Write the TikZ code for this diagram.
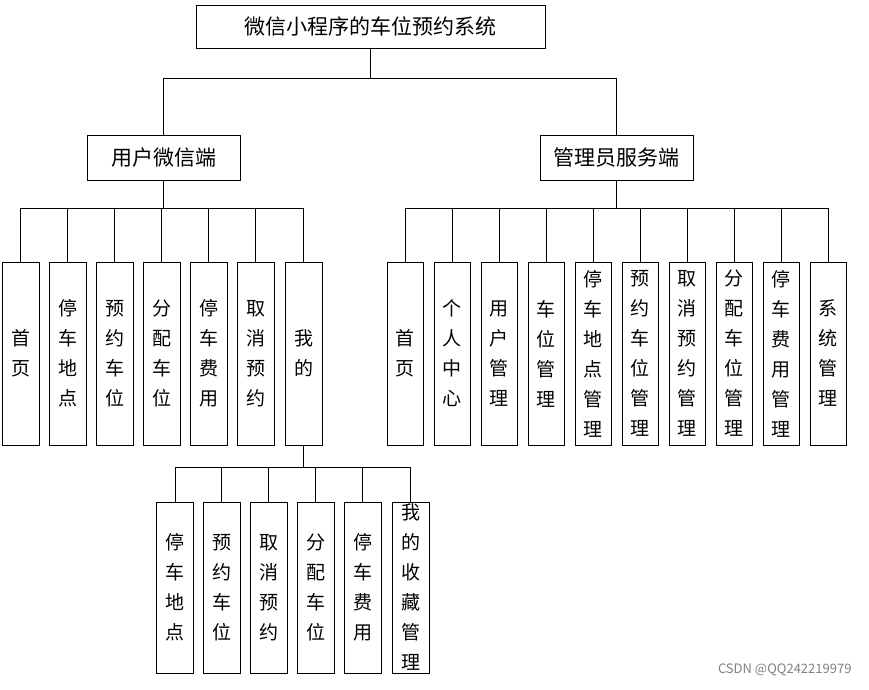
\documentclass[tikz,border=0pt]{standalone}
\usepackage{fontspec}
\setmainfont{Noto Sans CJK SC}
\begin{document}
\begin{tikzpicture}[x=1pt,y=-1pt,
 box/.style={draw,line width=0.8pt,inner sep=0pt,font=\fontsize{21}{26}\selectfont},
 vbox/.style={draw,line width=0.8pt,inner sep=0pt,minimum width=37pt,align=center,font=\fontsize{19}{30}\selectfont},
 ln/.style={line width=0.8pt}]
\useasboundingbox (0,0) rectangle (869,689);
\node[box,minimum width=349pt,minimum height=43pt] (root) at (370.5,26.5) {微信小程序的车位预约系统};
\node[box,minimum width=153pt,minimum height=45pt] (u) at (163.5,157.5) {用户微信端};
\node[box,minimum width=153pt,minimum height=45pt] (a) at (616.5,157.5) {管理员服务端};
\coordinate (rb) at (370.5,78);
\draw[ln] (root.south)--(rb); \draw[ln] (rb)-|(u.north); \draw[ln] (rb)-|(a.north);
% user children
\foreach \n/\x/\t in {u1/20.5/首\\页,u2/67.5/停\\车\\地\\点,u3/114.5/预\\约\\车\\位,u4/161.5/分\\配\\车\\位,u5/208.5/停\\车\\费\\用,u6/255.5/取\\消\\预\\约,u7/303.5/我\\的}
  \node[vbox,minimum height=183pt] (\n) at (\x,353.5) {\t};
\coordinate (ub) at (163.5,208);
\draw[ln] (u.south)--(ub);
\foreach \n in {u1,u2,u3,u4,u5,u6,u7} \draw[ln] (ub)-|(\n.north);
% admin children
\foreach \n/\x/\t in {a1/405/首\\页,a2/452/个\\人\\中\\心,a3/499/用\\户\\管\\理,a4/546/车\\位\\管\\理,a5/593/停\\车\\地\\点\\管\\理,a6/640/预\\约\\车\\位\\管\\理,a7/687/取\\消\\预\\约\\管\\理,a8/734/分\\配\\车\\位\\管\\理,a9/781/停\\车\\费\\用\\管\\理,a10/828/系\\统\\管\\理}
  \node[vbox,minimum width=36pt,minimum height=183pt] (\n) at (\x,353.5) {\t};
\coordinate (ab) at (616.5,208);
\draw[ln] (a.south)--(ab);
\foreach \n in {a1,a2,a3,a4,a5,a6,a7,a8,a9,a10} \draw[ln] (ab)-|(\n.north);
% my children
\foreach \n/\x/\t in {m1/175/停\\车\\地\\点,m2/221.5/预\\约\\车\\位,m3/268.5/取\\消\\预\\约,m4/315.5/分\\配\\车\\位,m5/362.5/停\\车\\费\\用,m6/410.5/我\\的\\收\\藏\\管\\理}
  \node[vbox,minimum height=171pt] (\n) at (\x,587.5) {\t};
\coordinate (mb) at (303.5,467);
\draw[ln] (u7.south)--(mb);
\foreach \n in {m1,m2,m3,m4,m5,m6} \draw[ln] (mb)-|(\n.north);
\node[anchor=east,text=gray,font=\fontsize{13}{15}\selectfont] (wm) at (855,670) {CSDN @QQ242219979};
\end{tikzpicture}
\end{document}
